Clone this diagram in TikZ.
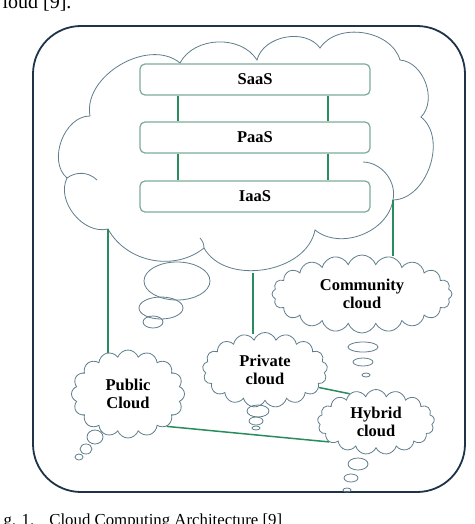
\documentclass[tikz,border=0pt]{standalone}
\usepackage{fontspec}
\setmainfont{Liberation Serif}
\usetikzlibrary{shapes.symbols}
\definecolor{framecol}{RGB}{30,50,72}
\definecolor{puffcol}{RGB}{95,125,140}
\definecolor{linkcol}{RGB}{40,140,95}
\definecolor{layercol}{RGB}{125,170,150}

\begin{document}
\begin{tikzpicture}[x=1pt, y=-1pt,
  every node/.style = {font=\bfseries\fontsize{16.5}{18}\selectfont, align=center},
  layer/.style = {shape=rectangle, rounded corners=5pt, draw=layercol,
    line width=1.2pt, minimum width=230pt, minimum height=31pt},
  puff/.style = {cloud, draw=puffcol, line width=0.8pt, inner sep=0pt, cloud puff arc=140},
  link/.style = {draw=linkcol, line width=1.5pt},
  bubble/.style = {draw=puffcol, line width=0.8pt}]
  \useasboundingbox (0,0) rectangle (474,524);
  \draw[framecol, line width=1.8pt, rounded corners=48pt] (33,26) rectangle (465,492);
  \node[font=\fontsize{20}{22}\selectfont, anchor=base west] (top) at (-1,9) {loud [9].};
  \node[font=\fontsize{16.8}{18}\selectfont, anchor=base west] (caption) at (0,525)
    {g. 1.\hspace{15pt}Cloud Computing Architecture [9]};

  % big cloud
  \draw[bubble] (90,116) to[bend left=70] (180,63) to[bend left=60] (257,60)
    to[bend left=65] (320,48) to[bend left=65] (400,60) to[bend left=65] (421,117)
    to[bend left=70] (393,200) to[bend left=60] (315,230) to[bend left=70] (204,248)
    to[bend left=50] (108,229) to[bend left=65] (67,178) to[bend left=70] cycle;
  \draw[bubble] (363,162) to[bend left=50] (393,200);
  \draw[bubble] (97,180) to[bend right=40] (67,178);
  \draw[bubble] (200,238) to[bend left=20] (204,248);
  \coordinate (bigL) at (108,229);
  \coordinate (bigM) at (253,273);
  \coordinate (bigR) at (393,200);

  \node[layer] (saas) at (255,79.5) {SaaS};
  \node[layer] (paas) at (255,137.5) {PaaS};
  \node[layer] (iaas) at (255,196.5) {IaaS};
  \foreach \s in {-77,73} {
    \draw[link] ([xshift=\s pt]saas.south) -- ([xshift=\s pt]paas.north);
    \draw[link] ([xshift=\s pt]paas.south) -- ([xshift=\s pt]iaas.north);
  }

  \node[puff, cloud puffs=16, aspect=1.3, minimum width=113pt, minimum height=88pt,
    label={[align=center]center:Public\\Cloud}] (pub) at (128,394) {};
  \node[puff, cloud puffs=17, aspect=1.7, minimum width=125pt, minimum height=75pt,
    label={[align=center]center:Private\\cloud}] (priv) at (265,370) {};
  \node[puff, cloud puffs=20, aspect=2.3, minimum width=180pt, minimum height=78pt,
    label={[align=center]center:Community\\cloud}] (comm) at (362,294) {};
  \node[puff, cloud puffs=17, aspect=1.8, minimum width=117pt, minimum height=65pt,
    label={[align=center]center:Hybrid\\cloud}] (hyb) at (376,422) {};

  \foreach \x/\y/\rx/\ry in {177/281/33/19, 161/308/22/11, 153/322/10/6,
      363/347/15/5, 363/362/10/4, 366/375/4/2,
      258/411/11/6, 256/421/7/4, 256/428/4/2,
      95/437/8/7, 86/449/6/5, 79/457/4/3,
      358/464/10/6, 351/478/7/4, 347/490/4/2}
    \draw[bubble] (\x,\y) ellipse [x radius=\rx pt, y radius=\ry pt];

  \draw[link] (bigL) -- (bigL |- pub.116);
  \draw[link] (bigM) -- (bigM |- priv.100);
  \draw[link] (bigR) -- (bigR |- comm.55);
  \draw[link] (priv.-18) -- (hyb.133);
  \draw[link] (pub.-40) -- (hyb.-157);
\end{tikzpicture}
\end{document}
